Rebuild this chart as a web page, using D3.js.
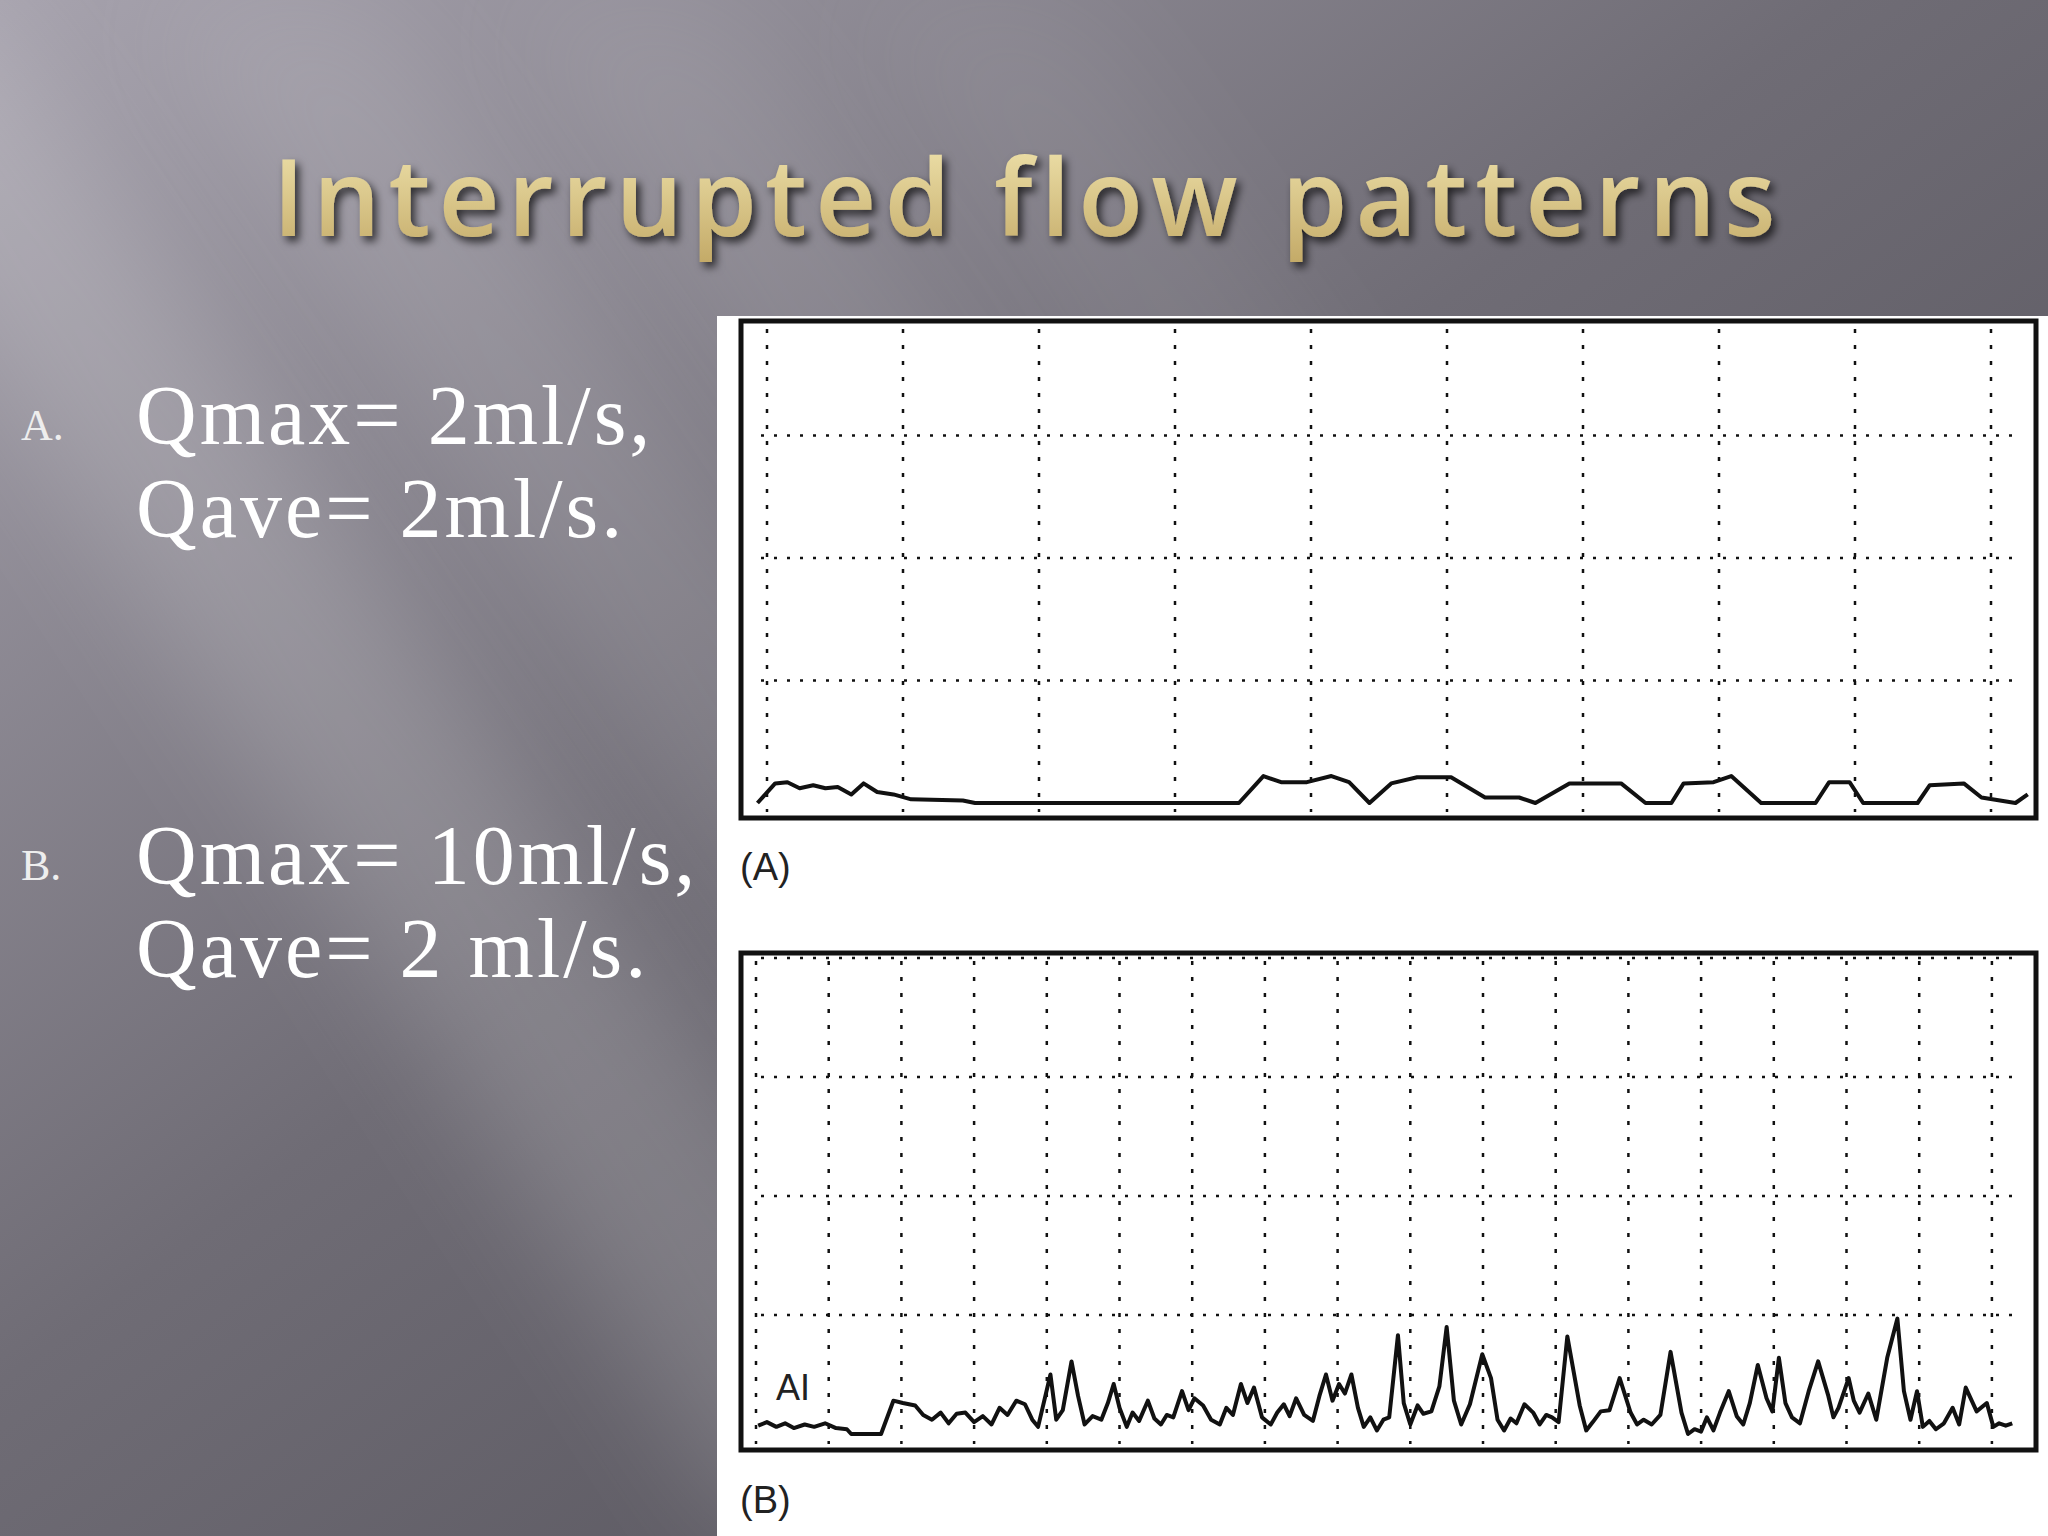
<!DOCTYPE html>
<html><head><meta charset="utf-8">
<script src="https://cdn.jsdelivr.net/npm/d3@7"></script>
<style>body{margin:0;background:#555}svg{display:block}</style>
</head><body>
<svg id="slide" width="2048" height="1536"></svg>
<script>
// trace A (time units, ml/s)
var flowAt = [-0.7,0.6,1.5,2.4,3.4,4.3,5.2,6.2,7.1,8.1,9.3,10.6,14.4,15.3,34.7,36.5,37.8,39.7,41.5,42.8,44.3,45.9,47.8,50.3,52.8,55.3,56.5,59,62.8,64.6,66.5,67.4,69.6,70.9,73.1,77.1,78.1,79.6,80.6,84.6,85.5,88,89.3,91.8,92.7];
var flowAv = [0,1.6,1.7,1.2,1.45,1.2,1.3,0.7,1.6,0.9,0.7,0.3,0.2,0,0,2.2,1.7,1.7,2.2,1.7,0,1.6,2.1,2.1,0.45,0.45,0,1.6,1.6,0,0,1.6,1.7,2.2,0,0,1.7,1.7,0,0,1.45,1.6,0.45,0,0.7];
// trace B
var flowBt = [0.3,1.5,2.8,4,5.2,6.7,8,9.5,11,12.5,13.1,17.2,18.9,20.2,21.9,23,24.2,25.4,26.5,27.6,28.8,30,31.2,32.4,33.5,34.6,35.8,37,38,38.8,40.5,41.3,42.2,43.4,44.3,45.2,46.3,47.5,48.4,49.2,50,51,51.8,52.7,53.9,54.8,55.7,56.5,57.4,58.6,59.5,60.3,61.5,62.6,63.8,64.7,65.6,66.7,67.6,68.5,69.6,70.8,71.7,72.6,73.4,74.3,75.4,76.6,77.5,78.4,79.3,80.2,81,81.9,82.8,83.6,84.5,85.4,86.3,87.1,88.3,89.1,90,91,91.8,92.9,94,95,96,97,98.2,99.9,101.1,102,102.9,103.8,104.6,105.7,106.9,107.8,108.7,109.5,110.4,111.6,113.3,114.2,115.1,116.2,117.4,118.8,120.3,121.2,122.1,123.2,124.4,125.8,127.3,128.2,129.1,130,130.8,131.7,132.6,133.8,134.9,135.8,136.7,137.8,139,139.8,140.7,141.6,142.5,143.6,144.8,146.1,147.5,148.2,148.9,150.3,151,151.8,153,154.1,155.6,157,157.9,158.8,159.7,160.5,161.4,162.3,163.4,164.6,165.5,166.4,167.9,169.3,170.2,171,171.9,172.8,173.7,174.5];
var flowBv = [0.7,1,0.6,0.9,0.5,0.8,0.6,0.9,0.5,0.4,0,0,2.8,2.6,2.4,1.6,1.2,1.8,0.9,1.7,1.8,1,1.5,0.8,2.2,1.6,2.8,2.5,1.2,0.6,5,1.2,2,6.1,3.2,0.8,1.5,1.2,2.6,4.2,2.2,0.6,1.8,1.1,2.8,1.3,0.8,1.6,1.4,3.6,2,3,2.4,1.2,0.8,2.2,1.6,4.2,2.6,3.9,1.4,0.8,1.8,2.5,1.5,3,1.6,1.1,3.2,5,2.8,4.2,3.4,5,2.2,0.6,1.4,0.3,1.2,1.4,8.3,2.6,0.8,2.4,1.7,1.9,4,9,2.8,0.8,2.5,6.7,4.7,1.2,0.3,1.3,0.9,2.5,1.8,0.8,1.6,1.4,1,8.2,2.4,0.3,1,1.9,2,4.7,1.8,0.8,1.2,0.8,1.6,6.9,1.8,0,0.4,0.2,1.4,0.3,1.8,3.6,1.5,0.8,2.6,5.8,3,1.9,6.4,2.6,1.4,0.9,3.6,6.1,3.2,1.4,2.2,4.7,2.8,1.8,3.4,1.2,6.4,9.7,3.6,1.2,3.6,0.6,1.1,0.4,0.9,2.2,0.8,3.9,1.9,2.6,0.6,0.9,0.7,0.9];
var gridAx = [0,10,20,30,40,50,60,70,80,90], gridAy = [10,20,30];
var gridBx = d3.range(0, 171, 10), gridBy = [10,20,30,40];

var svg = d3.select("#slide");
var defs = svg.append("defs");
var bg = defs.append("linearGradient").attr("id","bg").attr("x1","0").attr("y1","0").attr("x2","1").attr("y2","1");
bg.append("stop").attr("offset","0").attr("stop-color","#a6a2ad");
bg.append("stop").attr("offset","0.45").attr("stop-color","#6f6c75");
bg.append("stop").attr("offset","1").attr("stop-color","#4a4850");
var gold = defs.append("linearGradient").attr("id","gold").attr("x1","0").attr("y1","0").attr("x2","0").attr("y2","1");
gold.append("stop").attr("offset","0").attr("stop-color","#f4e9b4");
gold.append("stop").attr("offset","1").attr("stop-color","#c2a865");
defs.append("filter").attr("id","sh").append("feDropShadow").attr("dx",4).attr("dy",5).attr("stdDeviation",4).attr("flood-color","#000").attr("flood-opacity",0.7);
defs.append("filter").attr("id","blur").attr("x","-50%").attr("width","200%").append("feGaussianBlur").attr("stdDeviation",60);

svg.append("rect").attr("width",2048).attr("height",1536).attr("fill","url(#bg)");
// soft diagonal light streaks
[[-250,0.16],[150,0.10],[500,0.08],[850,0.06]].forEach(function(s){
  svg.append("polygon").attr("points",[[s[0],0],[s[0]+220,0],[s[0]+1300,1536],[s[0]+1000,1536]].join(" "))
    .attr("fill","#fff").attr("opacity",s[1]).attr("filter","url(#blur)");
});

svg.append("text").attr("x",1025).attr("y",236).attr("text-anchor","middle")
  .attr("font-family","Open Sans").attr("font-size",106).attr("font-weight",600)
  .attr("textLength",1505).attr("letter-spacing",2)
  .attr("fill","url(#gold)").attr("filter","url(#sh)").text("Interrupted flow patterns");

var serif = "Liberation Serif";
[["A.",444,["Qmax= 2ml/s,","Qave= 2ml/s."]],["B.",884,["Qmax= 10ml/s,","Qave= 2 ml/s."]]].forEach(function(b){
  svg.append("text").attr("x",21).attr("y",b[1]-4).attr("font-family",serif).attr("font-size",44).attr("fill","#eee").text(b[0]);
  b[2].forEach(function(l,i){
    svg.append("text").attr("x",136).attr("y",b[1]+i*93).attr("font-family",serif).attr("font-size",84)
      .attr("letter-spacing",3).attr("fill","#fff").text(l);
  });
});

// white panel
svg.append("rect").attr("x",717).attr("y",316).attr("width",1331).attr("height",1220).attr("fill","#fff");

function panel(box, x0, xs, baseY, ys, gx, gy, ts, vs, label, labelY){
  var g = svg.append("g");
  var x = d3.scaleLinear().domain([0,10]).range([x0, x0+xs]);
  var y = d3.scaleLinear().domain([0,10]).range([baseY, baseY-ys]);
  g.selectAll(".vx").data(gx).enter().append("line")
    .attr("x1",x).attr("x2",x).attr("y1",box[1]+8).attr("y2",box[3]-6)
    .attr("stroke","#111").attr("stroke-width",2.5).attr("stroke-dasharray","4,12");
  g.selectAll(".hy").data(gy).enter().append("line")
    .attr("x1",box[0]+20).attr("x2",box[2]-20).attr("y1",y).attr("y2",y)
    .attr("stroke","#111").attr("stroke-width",2.5).attr("stroke-dasharray","3,10");
  var line = d3.line().x(function(d){return x(d[0]);}).y(function(d){return y(d[1]);});
  g.append("path").datum(d3.zip(ts, vs)).attr("d",line).attr("fill","none")
    .attr("stroke","#111").attr("stroke-width",4).attr("stroke-linejoin","round");
  g.append("rect").attr("x",box[0]).attr("y",box[1]).attr("width",box[2]-box[0]).attr("height",box[3]-box[1])
    .attr("fill","none").attr("stroke","#111").attr("stroke-width",5);
  svg.append("text").attr("x",740).attr("y",labelY).attr("font-family","Liberation Sans").attr("font-size",38)
    .attr("fill","#222").text(label);
  return {x:x,y:y};
}
panel([741,321,2036,818], 767, 136, 803, 122.5, gridAx, gridAy, flowAt, flowAv, "(A)", 880);
panel([741,953,2036,1450], 756, 72.7, 1434, 119, gridBx, gridBy, flowBt, flowBv, "(B)", 1513);
svg.append("text").attr("x",776).attr("y",1400).attr("font-family","Liberation Sans").attr("font-size",36).attr("fill","#222").text("AI");
</script>
</body></html>
